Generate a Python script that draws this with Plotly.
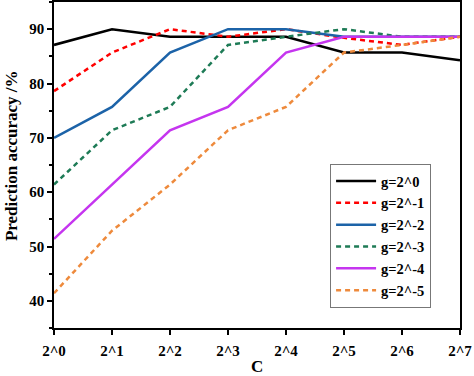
import plotly.graph_objects as go

c_labels = ["2^0", "2^1", "2^2", "2^3", "2^4", "2^5", "2^6", "2^7"]
g0 = [87.1, 90.0, 88.6, 88.6, 88.6, 85.7, 85.7, 84.3]
g1 = [78.6, 85.7, 90.0, 88.6, 90.0, 88.4, 87.1, 88.6]
g2 = [70.0, 75.7, 85.7, 90.0, 90.0, 88.6, 88.6, 88.6]
g3 = [61.4, 71.4, 75.7, 87.1, 88.6, 90.0, 88.6, 88.6]
g4 = [51.4, 61.4, 71.4, 75.7, 85.7, 88.6, 88.6, 88.6]
g5 = [41.4, 52.9, 61.4, 71.4, 75.7, 85.7, 87.1, 88.6]
y_ticks = [40, 50, 60, 70, 80, 90]

series = [
    ("g=2^0", g0, "#000000", "solid"),
    ("g=2^-1", g1, "#ff0000", "5px,4px"),
    ("g=2^-2", g2, "#1c63a8", "solid"),
    ("g=2^-3", g3, "#1e7b56", "5px,4px"),
    ("g=2^-4", g4, "#c535ef", "solid"),
    ("g=2^-5", g5, "#ee8a3c", "5px,4px"),
]

x_idx = list(range(len(c_labels)))

fig = go.Figure()
for name, vals, color, dash in series:
    fig.add_trace(go.Scatter(x=x_idx, y=vals, mode="lines", name="<b>%s</b>" % name,
                             line=dict(color=color, width=2.5, dash=dash)))

font = dict(family="Liberation Serif, Times New Roman, serif", color="black")

fig.update_layout(
    width=474, height=376,
    margin=dict(l=54, r=14, t=2, b=48, autoexpand=False),
    paper_bgcolor="white", plot_bgcolor="white",
    font=dict(**font, size=14),
    showlegend=True,
    legend=dict(x=0.68, y=0.503, xanchor="left", yanchor="top",
                bordercolor="#777777", borderwidth=1, bgcolor="white",
                font=dict(**font, size=14.5), tracegroupgap=0,
                itemwidth=40),
    xaxis=dict(
        range=[0, 7], tickmode="array", tickvals=x_idx,
        ticktext=["<b>%s</b>" % t for t in c_labels],
        showgrid=False, zeroline=False, automargin=False,
        showline=True, linecolor="black", linewidth=1.5, mirror=True,
        ticks="outside", ticklen=5, tickwidth=1.5, tickcolor="black",
        tickfont=dict(**font, size=15), ticklabelstandoff=3,
    ),
    yaxis=dict(
        range=[35, 95], tickmode="array", tickvals=y_ticks,
        ticktext=["<b>%d</b>" % v for v in y_ticks],
        showgrid=False, zeroline=False, automargin=False,
        showline=True, linecolor="black", linewidth=1.5, mirror=True,
        ticks="outside", ticklen=5, tickwidth=1.5, tickcolor="black",
        minor=dict(tickvals=[35, 45, 55, 65, 75, 85, 95], ticks="outside",
                   ticklen=3, tickwidth=1.5, tickcolor="black"),
        tickfont=dict(**font, size=15),
    ),
    annotations=[
        dict(text="<b>Prediction accuracy /%</b>", xref="paper", yref="paper",
             x=-0.103, y=0.528, xanchor="center", yanchor="middle",
             textangle=-90, showarrow=False, font=dict(**font, size=17)),
        dict(text="<b>C</b>", xref="paper", yref="paper",
             x=0.5, y=-0.118, xanchor="center", yanchor="middle",
             showarrow=False, font=dict(**font, size=17)),
    ],
)

fig.write_html("out.html", config={"displayModeBar": False},
               post_script="document.body.style.margin='0';document.body.style.padding='0';")
